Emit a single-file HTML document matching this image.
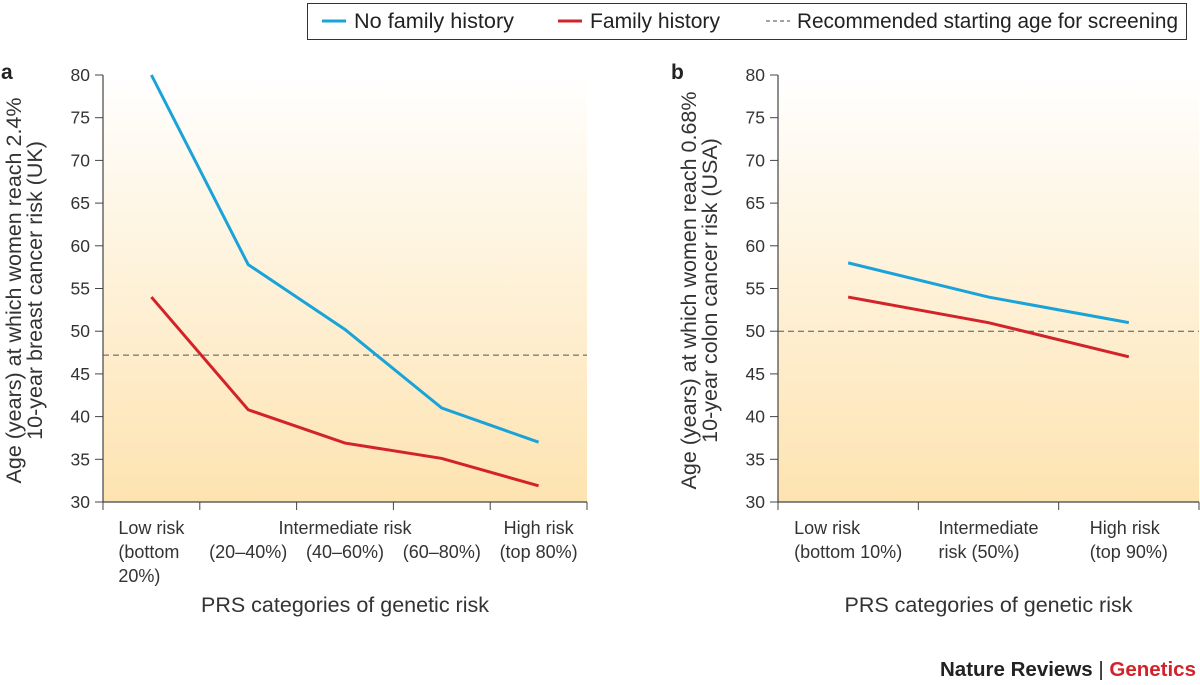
<!DOCTYPE html>
<html><head><meta charset="utf-8"><style>
html,body{margin:0;padding:0;background:#fff;}
svg{display:block;font-family:"Liberation Sans",sans-serif;}
</style></head><body>
<svg id="chart" width="1200" height="685" viewBox="0 0 1200 685">
<defs><linearGradient id="bg" x1="0" y1="0" x2="0" y2="1"><stop offset="0" stop-color="#ffffff"/><stop offset="1" stop-color="#fde3b0"/></linearGradient></defs>
<g>
<rect x="307.5" y="3.5" width="879" height="36" fill="#fff" stroke="#333" stroke-width="1"/>
<line x1="322" y1="21" x2="346" y2="21" stroke="#1aa3d8" stroke-width="3"/>
<text x="354" y="28" font-size="21" textLength="160" lengthAdjust="spacingAndGlyphs" fill="#222">No family history</text>
<line x1="558" y1="21" x2="582" y2="21" stroke="#d2232a" stroke-width="3"/>
<text x="590" y="28" font-size="21" textLength="130" lengthAdjust="spacingAndGlyphs" fill="#222">Family history</text>
<line x1="766" y1="21" x2="790" y2="21" stroke="#444" stroke-width="1" stroke-dasharray="4,3"/>
<text x="797" y="28" font-size="21" textLength="381" lengthAdjust="spacingAndGlyphs" fill="#222">Recommended starting age for screening</text>
</g>
<text x="1" y="79" font-size="21" font-weight="bold" fill="#222">a</text>
<text x="671" y="79" font-size="21" font-weight="bold" fill="#222">b</text>
<g id="pa"></g><g id="pb"></g>
<text x="1196" y="676" font-size="20.5" font-weight="bold" text-anchor="end" fill="#222">Nature Reviews <tspan font-weight="normal">|</tspan> <tspan fill="#d2232a">Genetics</tspan></text>
</svg>
<script>
const yTicks=[30,35,40,45,50,55,60,65,70,75,80];
const aNoFamily=[80,57.8,50.2,41,37];
const aFamily=[54,40.8,36.9,35.1,31.9];
const aRecommended=47.2;
const aCatLabels=[["Low risk","(bottom","20%)"],["","(20–40%)"],["Intermediate risk","(40–60%)"],["","(60–80%)"],["High risk","(top 80%)"]];
const bNoFamily=[58,54,51];
const bFamily=[54,51,47];
const bRecommended=50;
const bCatLabels=[["Low risk","(bottom 10%)"],["Intermediate","risk (50%)"],["High risk","(top 90%)"]];
const NS="http://www.w3.org/2000/svg";
function mk(p,t,a){const e=document.createElementNS(NS,t);for(const k in a)e.setAttribute(k,a[k]);p.appendChild(e);return e;}
function panel(g,x0,x1,nf,fh,rec,cats,title,id,perLine){
 const y0=502,yT=75;const y=v=>y0-(v-30)/(80-30)*(y0-yT);
 const n=nf.length,w=(x1-x0)/n;const x=i=>x0+w*(i+0.5);
 const bg=mk(g,'rect',{x:x0,y:yT,width:x1-x0,height:y0-yT,fill:'url(#bg)'});
 
 
 const ax=mk(g,'path',{d:`M${x0},${yT} V${y0} H${x1}`,stroke:'#444',fill:'none','stroke-width':1.2});
 
 
 yTicks.forEach(v=>{mk(g,'line',{x1:x0-8,x2:x0,y1:y(v),y2:y(v),stroke:'#444'});
  const t=mk(g,'text',{x:x0-13,y:y(v)+6,'font-size':17.5,'text-anchor':'end',fill:'#333'});t.textContent=v;
  
  });
 for(let i=0;i<=n;i++)mk(g,'line',{x1:x0+w*i,x2:x0+w*i,y1:y0,y2:y0+8,stroke:'#444'});
 cats.forEach((c,i)=>{const ts=[];c.forEach((s,j)=>{const t=mk(g,'text',{x:0,y:y0+32+j*24,'font-size':18,fill:'#333'});t.textContent=s;
  
  ts.push(t);});
  let mw=0;ts.forEach(t=>{mw=Math.max(mw,t.getComputedTextLength());});
  const block=!perLine||i===0;
  ts.forEach(t=>t.setAttribute('x',block?x(i)-mw/2:x(i)-t.getComputedTextLength()/2));});
 const d=mk(g,'line',{x1:x0,x2:x1,y1:y(rec),y2:y(rec),stroke:'#555','stroke-dasharray':'6,4','stroke-width':1});
 
 
 [[nf,'#1aa3d8','no-family'],[fh,'#d2232a','family']].forEach(([s,c,nm])=>{
  const p=mk(g,'polyline',{points:s.map((v,i)=>x(i)+','+y(v)).join(' '),fill:'none',stroke:c,'stroke-width':3});
  
  });
 const tx=mk(g,'text',{x:(x0+x1)/2,y:612,'font-size':21.5,'text-anchor':'middle',fill:'#333'});tx.textContent='PRS categories of genetic risk';
 
 
 const cx=x0-82,cy=(y0+yT)/2+2;
 title.forEach((s,j)=>{const t=mk(g,'text',{x:0,y:0,'font-size':21.5,'text-anchor':'middle',fill:'#333',transform:`translate(${cx+j*21},${cy}) rotate(-90)`});t.textContent=s;
  
  });
}
panel(document.getElementById('pa'),103,587,aNoFamily,aFamily,aRecommended,aCatLabels,["Age (years) at which women reach 2.4%","10-year breast cancer risk (UK)"],'a',true);
panel(document.getElementById('pb'),778,1199,bNoFamily,bFamily,bRecommended,bCatLabels,["Age (years) at which women reach 0.68%","10-year colon cancer risk (USA)"],'b',false);
</script>
</body></html>
